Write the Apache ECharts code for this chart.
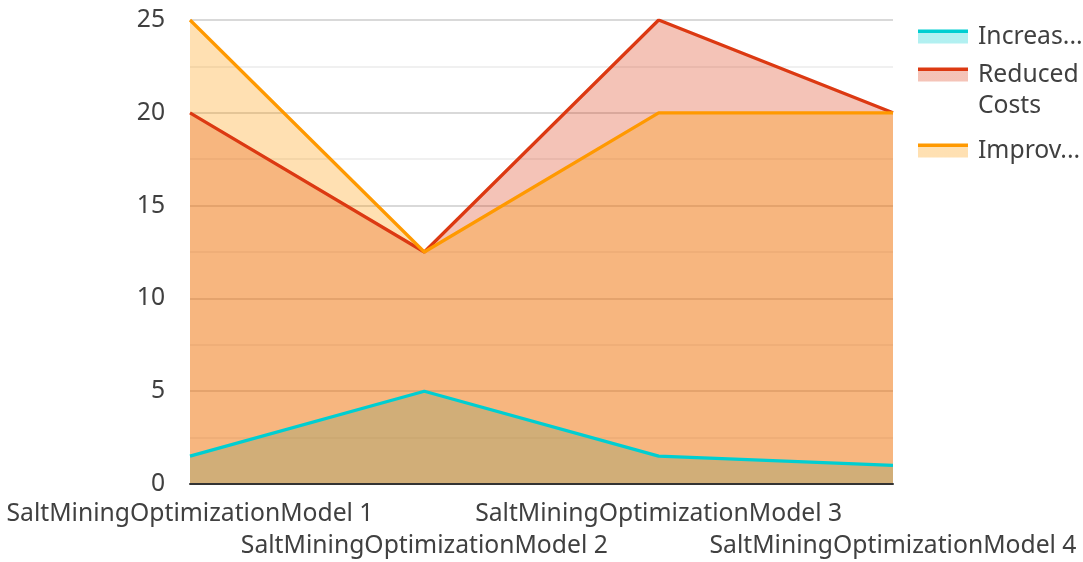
<!DOCTYPE html>
<html><head><meta charset="utf-8">
<script src="https://cdn.jsdelivr.net/npm/echarts@6/dist/echarts.min.js"></script>
<style>html,body{margin:0;padding:0;background:#fff}#c{width:1083px;height:562px}</style>
</head><body><div id="c"></div>
<script>
const categories = ['SaltMiningOptimizationModel 1','SaltMiningOptimizationModel 2','SaltMiningOptimizationModel 3','SaltMiningOptimizationModel 4'];
const seriesNames = ['Increas...','Reduced Costs','Improv...'];
const increasedValues = [1.5, 5, 1.5, 1];
const reducedCostsValues = [20, 12.5, 25, 20];
const improvedValues = [25, 12.5, 20, 20];
const colors = ['#00CED1','#DC3912','#FF9900'];
const fills = ['rgba(0,206,209,0.3)','rgba(220,57,18,0.3)','rgba(255,153,0,0.3)'];
const values = [increasedValues, reducedCostsValues, improvedValues];

const FONT = '"Noto Sans", sans-serif';
const TXT = '#404040';
const FS = 24.7;

const series = [];
values.forEach((v,i)=>{
  series.push({name: seriesNames[i], type:'line', data:v, showSymbol:false, symbol:'none',
    lineStyle:{width:0}, areaStyle:{color:fills[i], opacity:1}, itemStyle:{color:colors[i]}, z:2, silent:true});
});
values.forEach((v,i)=>{
  series.push({name: seriesNames[i], type:'line', data:v, showSymbol:false, symbol:'none',
    lineStyle:{width:3.2, color:colors[i]}, itemStyle:{color:colors[i]}, z:3, silent:true});
});

function grad(i){
  return new echarts.graphic.LinearGradient(0,0,0,1,[
    {offset:0,color:colors[i]},{offset:0.24,color:colors[i]},
    {offset:0.24,color:fills[i]},{offset:1,color:fills[i]}]);
}
const legendTops = [21, 28, 135];
const legends = seriesNames.map((n,i)=>({
  show:true, orient:'vertical', left:918, top:legendTops[i], padding:0,
  icon:'rect', itemWidth:50, itemHeight:14, itemGap:10,
  data:[{name:n, itemStyle:{color:grad(i), borderWidth:0}}],
  formatter: (name)=> name==='Reduced Costs' ? '\nReduced\nCosts' : name,
  textStyle:{fontFamily:FONT, fontSize:FS, color:TXT, lineHeight:31, padding:[0,0,0,5]},
  selectedMode:false
}));

const chart = echarts.init(document.getElementById('c'), null, {renderer:'canvas'});
chart.setOption({
  animation:false,
  backgroundColor:'#fff',
  grid:{left:190, right:190, top:20, bottom:75, containLabel:false},
  legend: legends,
  xAxis:{type:'category', data:categories, boundaryGap:false, z:10,
    axisLine:{show:true, lineStyle:{color:'#333', width:2}},
    axisTick:{show:false},
    axisLabel:{interval:0, hideOverlap:false, margin:14, fontFamily:FONT, fontSize:FS, color:TXT, lineHeight:32,
      formatter:(v,idx)=> idx%2===1 ? '\n'+v : v},
    splitLine:{show:false}},
  yAxis:{type:'value', min:0, max:25, interval:5,
    axisLine:{show:false}, axisTick:{show:false},
    axisLabel:{margin:25, fontFamily:FONT, fontSize:FS, color:TXT},
    splitLine:{show:true, lineStyle:{color:'#cccccc', width:1.5}},
    minorTick:{show:false, splitNumber:2},
    minorSplitLine:{show:true, lineStyle:{color:'#ebebeb', width:1.5}}},
  series: series
});
</script></body></html>
